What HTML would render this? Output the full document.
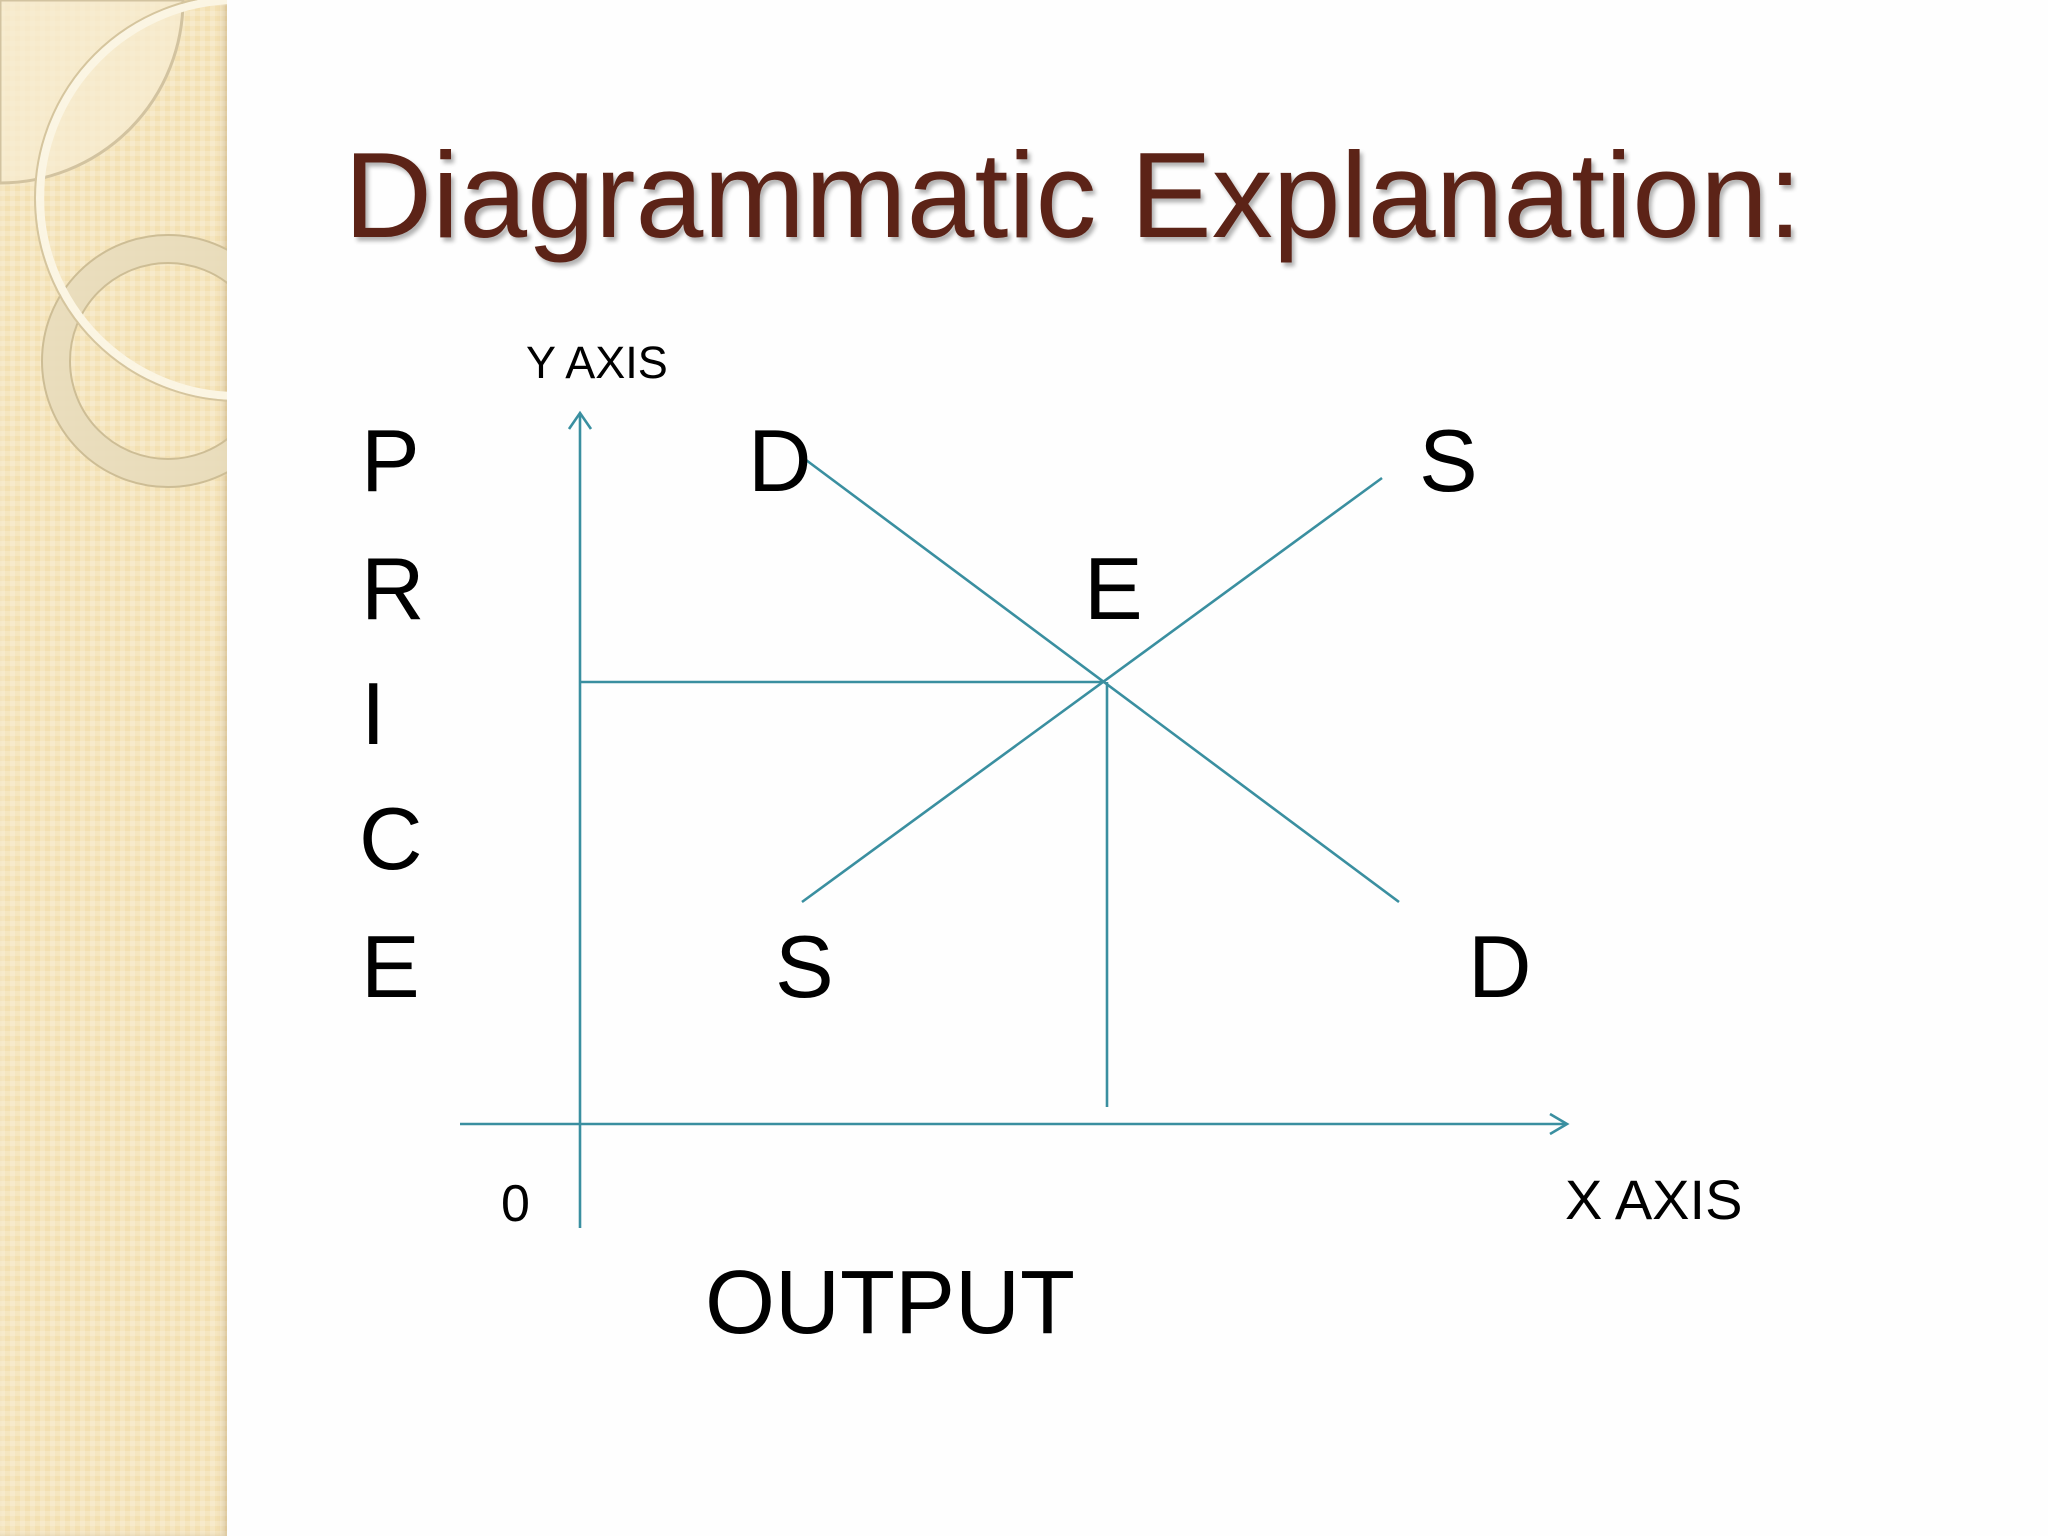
<!DOCTYPE html>
<html><head><meta charset="utf-8"><style>
html,body{margin:0;padding:0}
body{width:2048px;height:1536px;position:relative;overflow:hidden;background:#fefefe;font-family:"Liberation Sans",Arial,sans-serif}
#side{position:absolute;left:0;top:0;width:227px;height:1536px;background-color:#f3e0b2;
background-image:repeating-linear-gradient(0deg,rgba(255,255,255,0.18) 0 5px,rgba(0,0,0,0) 5px 10px),repeating-linear-gradient(90deg,rgba(255,255,255,0.18) 0 5px,rgba(0,0,0,0) 5px 10px);
box-shadow:inset -4px 0 6px rgba(150,120,70,0.25)}
.t{position:absolute;white-space:nowrap;color:#000;line-height:1}
</style></head><body>
<div id="side"></div>
<svg width="2048" height="1536" style="position:absolute;left:0;top:0">
<defs><clipPath id="c"><rect x="0" y="0" width="227" height="1536"/></clipPath></defs>
<g clip-path="url(#c)">
<path d="M0 0 L183 0 A183 183 0 0 1 0 183 Z" fill="#f7ecd2" fill-opacity="0.75" stroke="#d2c3a0" stroke-width="3"/>
<circle cx="168" cy="361" r="112" fill="none" stroke="#e8dcbb" stroke-width="28" stroke-opacity="0.9"/>
<circle cx="168" cy="361" r="126" fill="none" stroke="#cdbd95" stroke-width="2"/>
<circle cx="168" cy="361" r="98" fill="none" stroke="#cdbd95" stroke-width="2"/>
<circle cx="238" cy="198" r="198" fill="none" stroke="#fbf5e3" stroke-width="8"/>
<circle cx="238" cy="198" r="203" fill="none" stroke="#d5c59e" stroke-width="2"/>
</g>
<g stroke="#3a8fa0" stroke-width="2.6" fill="none">
<line x1="580" y1="413" x2="580" y2="1228"/>
<polyline points="569,429 580,413 591,429"/>
<line x1="460" y1="1124" x2="1566" y2="1124"/>
<polyline points="1550,1114 1567,1124 1550,1134"/>
<line x1="580" y1="682" x2="1105" y2="682"/>
<line x1="1107" y1="682" x2="1107" y2="1107"/>
<line x1="806" y1="460" x2="1399" y2="902"/>
<line x1="802" y1="902" x2="1382" y2="478"/>
</g>
</svg>
<div class="t" style="left:344px;top:134px;font-size:122px;color:#5c2317;text-shadow:3px 4px 4px rgba(0,0,0,0.3)">Diagrammatic Explanation:</div>
<div class="t" style="left:526px;top:340px;font-size:45px">Y AXIS</div>
<div class="t" style="left:361px;top:417px;font-size:88px">P</div>
<div class="t" style="left:361px;top:545px;font-size:88px">R</div>
<div class="t" style="left:361px;top:670px;font-size:88px">I</div>
<div class="t" style="left:359px;top:795px;font-size:88px">C</div>
<div class="t" style="left:361px;top:923px;font-size:88px">E</div>
<div class="t" style="left:748px;top:417px;font-size:88px">D</div>
<div class="t" style="left:1419px;top:417px;font-size:88px">S</div>
<div class="t" style="left:1084px;top:545px;font-size:88px">E</div>
<div class="t" style="left:775px;top:923px;font-size:88px">S</div>
<div class="t" style="left:1468px;top:923px;font-size:88px">D</div>
<div class="t" style="left:501px;top:1178px;font-size:52px">0</div>
<div class="t" style="left:1565px;top:1172px;font-size:56px">X AXIS</div>
<div class="t" style="left:705px;top:1258px;font-size:90px">OUTPUT</div>
</body></html>
